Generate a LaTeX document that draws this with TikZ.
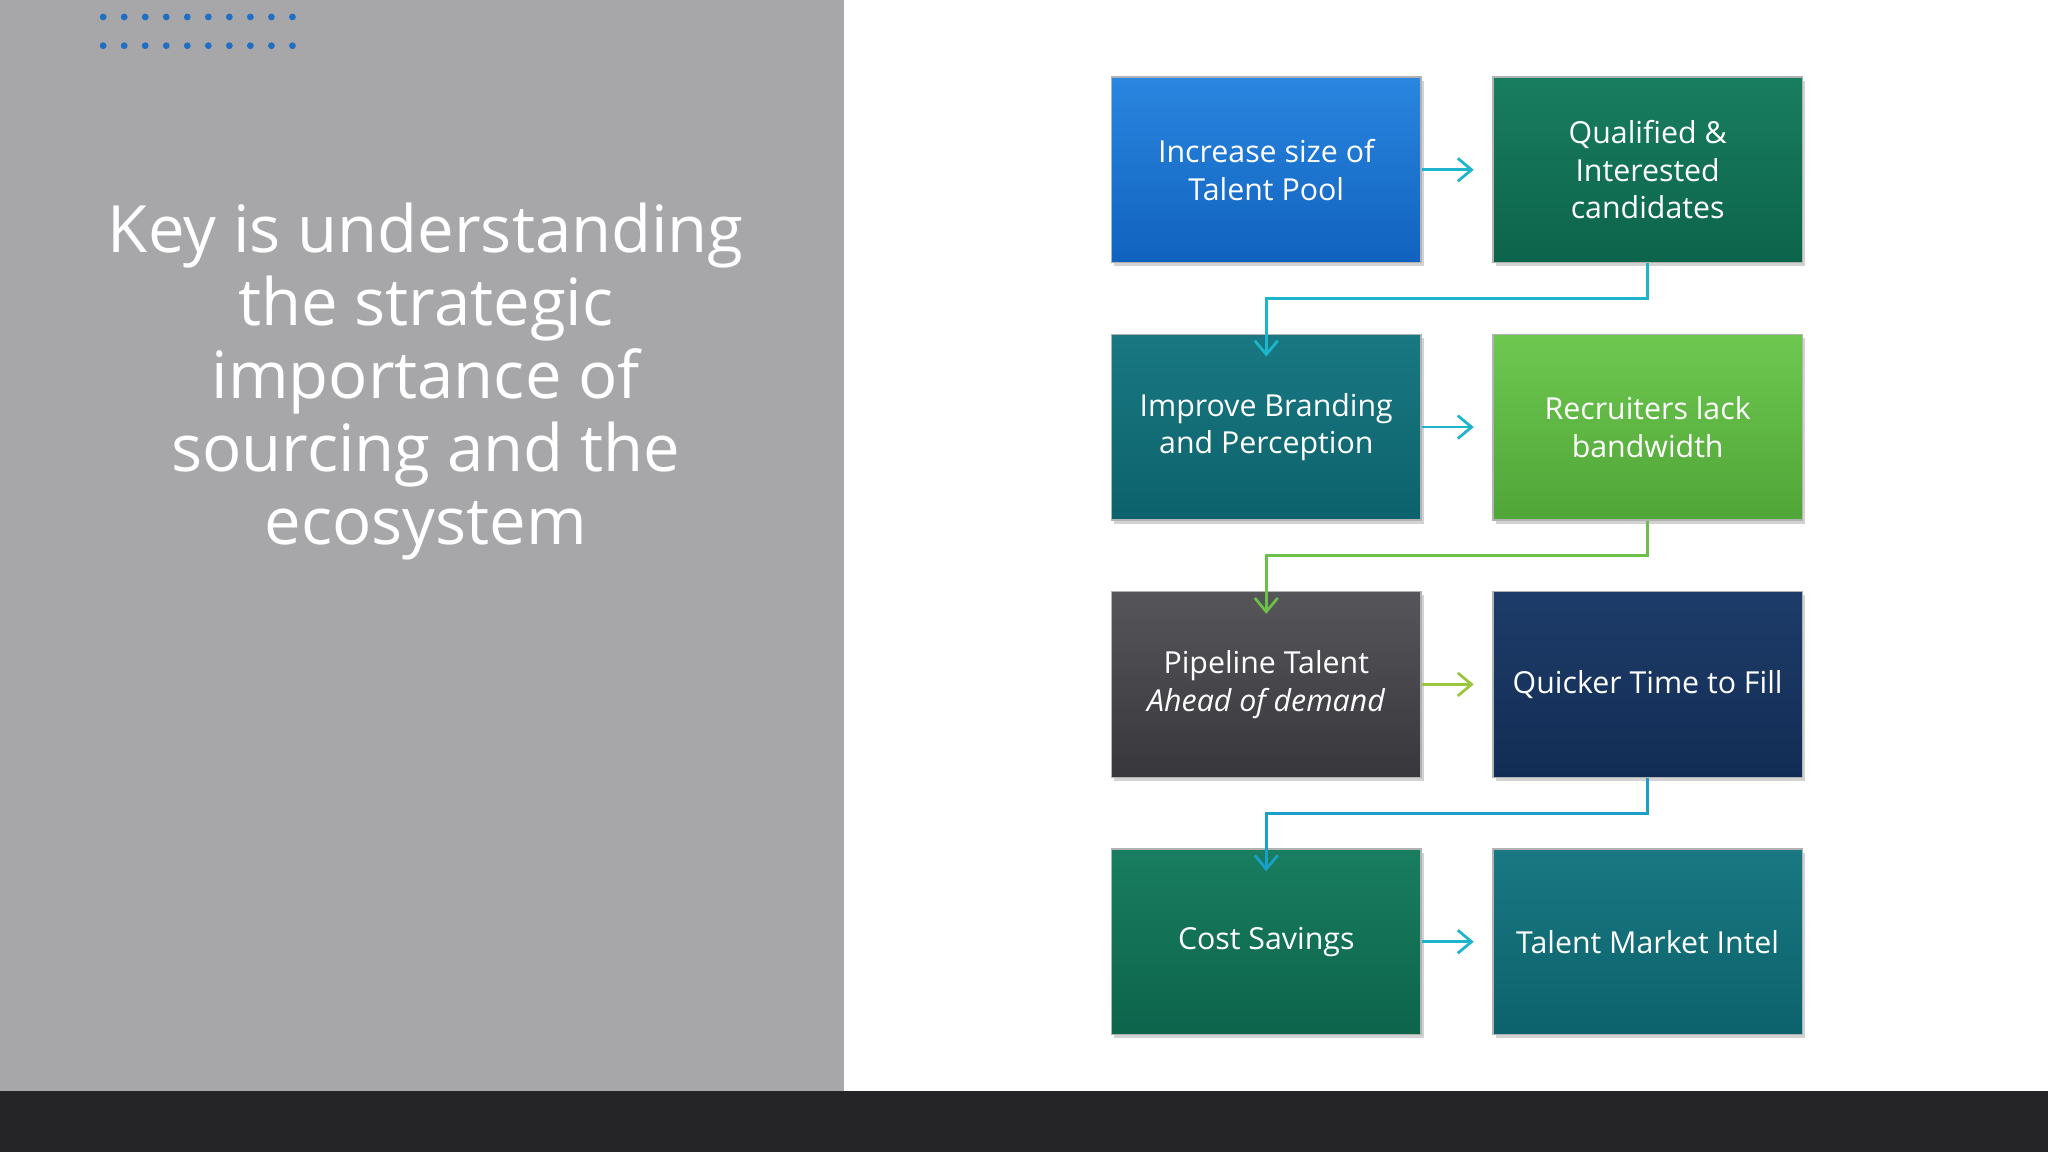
\documentclass[tikz,border=0pt]{standalone}
\usepackage{fontspec}
\setmainfont{Open Sans}
\usetikzlibrary{arrows.meta,shadows}
\definecolor{panel}{HTML}{A7A6A8}
\definecolor{strip}{HTML}{252527}
\definecolor{dotc}{HTML}{1F6FC5}
\definecolor{cyanl}{HTML}{1DB5CC}
\definecolor{greenl}{HTML}{6CC04A}
\definecolor{limel}{HTML}{9BC53D}
\definecolor{bluel}{HTML}{1AA0C8}
\definecolor{bluetop}{HTML}{2A86E0}
\definecolor{bluebot}{HTML}{1062BE}
\definecolor{grtop}{HTML}{197D5F}
\definecolor{grbot}{HTML}{0C644B}
\definecolor{tltop}{HTML}{197882}
\definecolor{tlbot}{HTML}{0C626C}
\definecolor{lgtop}{HTML}{6EC850}
\definecolor{lgbot}{HTML}{50A537}
\definecolor{dgtop}{HTML}{55555A}
\definecolor{dgbot}{HTML}{37373C}
\definecolor{nvtop}{HTML}{1E3C69}
\definecolor{nvbot}{HTML}{122D55}
\begin{document}
\begin{tikzpicture}[x=0.01cm,y=-0.01cm,
  box/.style={minimum width=2.37cm,minimum height=1.42cm,align=center,text=white,font=\fontsize{6.6}{8.2}\selectfont,draw=white!70!black,line width=0.3pt,drop shadow={shadow xshift=0.6pt,shadow yshift=-0.8pt,opacity=0.35}},
  arr/.style={-{Straight Barb[length=3pt,width=5pt]},line width=0.6pt}]
\useasboundingbox (0,0) rectangle (1568,882);
\fill[white] (0,0) rectangle (1568,882);
\fill[panel] (0,0) rectangle (646,835);
\fill[strip] (0,835) rectangle (1568,882);
\foreach \i in {0,...,9}{\foreach \yy in {13,35}{\fill[dotc] (79+16.1*\i,\yy) circle (2.6);}}
\node[text=white,align=center,font=\fontsize{14.2}{15.9}\selectfont] (title) at (326,292) {Key is understanding\\the strategic\\importance of\\sourcing and the\\ecosystem};
\node[box,top color=bluetop,bottom color=bluebot] (a1) at (969.5,130) {Increase size of\\Talent Pool};
\node[box,top color=grtop,bottom color=grbot] (b1) at (1261.5,130) {Qualified \&\\Interested\\candidates};
\node[box,top color=tltop,bottom color=tlbot] (a2) at (969.5,327) {Improve Branding\\and Perception};
\node[box,top color=lgtop,bottom color=lgbot] (b2) at (1261.5,327) {Recruiters lack\\bandwidth};
\node[box,top color=dgtop,bottom color=dgbot] (a3) at (969.5,524) {Pipeline Talent\\\textit{Ahead of demand}};
\node[box,top color=nvtop,bottom color=nvbot] (b3) at (1261.5,524) {Quicker Time to Fill};
\node[box,top color=grtop,bottom color=grbot] (a4) at (969.5,721) {Cost Savings};
\node[box,top color=tltop,bottom color=tlbot] (b4) at (1261.5,721) {Talent Market Intel};
\draw[arr,cyanl] (a1.east) -- ([xshift=-4]b1.west);
\draw[arr,cyanl] (a2.east) -- ([xshift=-4]b2.west);
\draw[arr,limel] (a3.east) -- ([xshift=-4]b3.west);
\draw[arr,cyanl] (a4.east) -- ([xshift=-4]b4.west);
\draw[arr,cyanl] (b1.south) -- ++(0,27) -| ([yshift=-5]a2.north);
\draw[arr,greenl] (b2.south) -- ++(0,27) -| ([yshift=-5]a3.north);
\draw[arr,bluel] (b3.south) -- ++(0,27) -| ([yshift=-5]a4.north);
\end{tikzpicture}
\end{document}
